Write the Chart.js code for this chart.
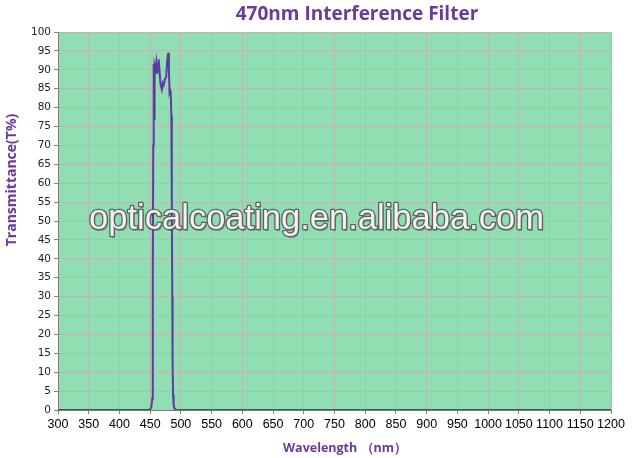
<!DOCTYPE html>
<html>
<head>
<meta charset="utf-8">
<script src="https://cdn.jsdelivr.net/npm/chart.js@4/dist/chart.umd.min.js"></script>
<style>
html,body{margin:0;padding:0;background:#fff;}
#wrap{width:632px;height:458px;position:relative;}
</style>
</head>
<body>
<div id="wrap"><canvas id="c" width="632" height="458"></canvas></div>
<script>
// Data
const wavelengths = [300, 400, 440, 448, 450, 452, 453.3, 454, 454.5, 455, 455.5, 456, 456.6, 457.2, 458.5, 460, 461.5, 463, 464, 465.5, 467, 469, 470.5, 472, 474, 476, 478, 479.5, 480.5, 481.5, 482.5, 483.5, 484.5, 485, 485.5, 486, 486.5, 487.3, 488.3, 489.8, 491.5, 496, 600, 800, 1000, 1200];
const transmittance = [0, 0, 0, 0, 0.2, 0.8, 3, 10, 35, 70, 89, 91.5, 77, 91, 90, 92, 89, 91.5, 92.8, 89, 86, 84.8, 86.5, 86, 87.5, 88, 93, 94.5, 90, 84, 84.5, 83.5, 78, 75, 55, 30, 12, 4, 1.2, 0.3, 0.1, 0, 0, 0, 0, 0];
const xTickMin = 300, xTickMax = 1200, xTickStep = 50;
const yTickMin = 0, yTickMax = 100, yTickStep = 5;
const chartTitle = '470nm Interference Filter';
const xTitle = 'Wavelength （nm）';
const yTitle = 'Transmittance(T%)';
const watermark = 'opticalcoating.en.alibaba.com';

const purple = '#6A3A9C';

const decor = {
  id: 'decor',
  beforeDraw(chart) {
    const {ctx, chartArea: a} = chart;
    ctx.save();
    ctx.fillStyle = '#90DEB2';
    ctx.fillRect(a.left, a.top, a.right - a.left, a.bottom - a.top);
    ctx.restore();
  },
  afterDatasetsDraw(chart) {
    const {ctx} = chart;
    ctx.save();
    let size = 34;
    ctx.font = size + 'px "Liberation Sans", Arial, sans-serif';
    const w = ctx.measureText(watermark).width;
    size = size * 455 / w;
    ctx.font = size + 'px "Liberation Sans", Arial, sans-serif';
    ctx.textAlign = 'center';
    ctx.textBaseline = 'alphabetic';
    ctx.lineJoin = 'round';
    ctx.fillStyle = 'rgba(40,40,40,0.35)';
    ctx.fillText(watermark, 318, 231);
    ctx.strokeStyle = '#5E5E5E';
    ctx.lineWidth = 2.6;
    ctx.strokeText(watermark, 316.5, 229);
    ctx.fillStyle = '#F2F2F2';
    ctx.fillText(watermark, 316.5, 229);
    ctx.restore();
  },
  afterDraw(chart) {
    const {ctx} = chart;
    ctx.save();
    ctx.fillStyle = purple;
    ctx.textAlign = 'center';
    ctx.textBaseline = 'middle';
    ctx.font = 'bold 19px "Open Sans", "Noto Sans", sans-serif';
    ctx.fillText(chartTitle, 357, 15);
    ctx.font = 'bold 12.5px "Open Sans", "Noto Sans", sans-serif';
    ctx.fillText(xTitle, 345, 448);
    ctx.font = 'bold 14px "Open Sans", "Noto Sans", sans-serif';
    ctx.translate(12, 180);
    ctx.rotate(-Math.PI / 2);
    ctx.fillText(yTitle, 0, 0);
    ctx.restore();
  }
};

new Chart(document.getElementById('c'), {
  type: 'line',
  data: {
    datasets: [{
      data: wavelengths.map((x, i) => ({x: x, y: transmittance[i]})),
      borderColor: '#5B3DA2',
      borderWidth: 2,
      pointRadius: 0,
      tension: 0,
      fill: false
    }]
  },
  options: {
    responsive: false,
    animation: false,
    events: [],
    layout: {padding: {top: 32, right: 21, left: 0, bottom: 0}},
    plugins: {legend: {display: false}, tooltip: {enabled: false}, title: {display: false}},
    scales: {
      x: {
        type: 'linear',
        min: xTickMin, max: xTickMax,
        afterFit(s) { s.height = 48; },
        ticks: {
          stepSize: xTickStep,
          autoSkip: false,
          maxRotation: 0,
          padding: 3,
          color: '#000',
          callback: v => String(v),
          font: {family: '"Liberation Sans Narrow", "Liberation Sans", sans-serif', size: 12.5}
        },
        grid: {color: '#B4BCB2', lineWidth: 1, tickLength: 4, tickColor: '#808080'},
        border: {color: '#7A7A7A', width: 1}
      },
      y: {
        min: yTickMin, max: yTickMax,
        afterFit(s) { s.width = 58; },
        ticks: {
          stepSize: yTickStep,
          autoSkip: false,
          padding: 3,
          color: '#222',
          font: {family: '"DejaVu Sans", sans-serif', size: 10.5}
        },
        grid: {color: '#B4BCB2', lineWidth: 1, tickLength: 4, tickColor: '#808080'},
        border: {color: '#7A7A7A', width: 1}
      }
    }
  },
  plugins: [decor]
});
</script>
</body>
</html>
